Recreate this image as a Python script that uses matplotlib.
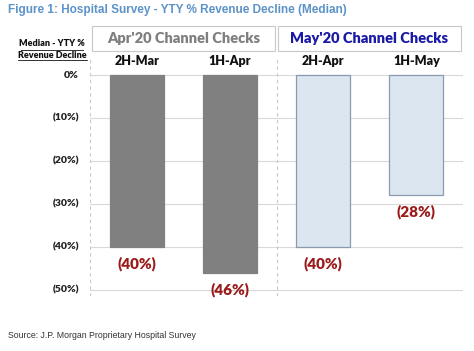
import matplotlib.pyplot as plt
from matplotlib.patches import Rectangle

# Datos
periodos = ['2H-Mar', '1H-Apr', '2H-Apr', '1H-May']
declive = [-40, -46, -40, -28]
etiquetas = ['(40%)', '(46%)', '(40%)', '(28%)']
grupos = ["Apr'20 Channel Checks", "May'20 Channel Checks"]
ticks_y = [0, -10, -20, -30, -40, -50]
ticks_txt = ['0%', '(10%)', '(20%)', '(30%)', '(40%)', '(50%)']

W, H = 474, 351
fig = plt.figure(figsize=(W / 100, H / 100), dpi=100)
plt.rcParams['font.family'] = ['Lato', 'DejaVu Sans']
narrow = ['Liberation Sans Narrow', 'Liberation Sans', 'DejaVu Sans']
peso = 'heavy'

def fx(px):
    return px / W

def fy(py):
    return 1 - py / H

# ejes: 0% en y=75, -50% en y=290
ax_top, ax_bot = 58, 296
ymax = 0 + (75 - ax_top) / 4.3
ymin = -50 - (ax_bot - 290) / 4.3
ax = fig.add_axes([fx(90), fy(ax_bot), fx(463) - fx(90), fy(ax_top) - fy(ax_bot)])
ax.set_xlim(-0.5, 3.5)
ax.set_ylim(ymin, ymax)

for t in ticks_y:
    ax.axhline(t, color='#d9d9d9', lw=0.8, zorder=0)
for xv in [-0.5, 1.5, 3.5]:
    ax.axvline(xv, color='#c8c8c8', lw=0.8, ls=(0, (3, 3)), zorder=0)

colores = ['#808080', '#808080', '#dce6f1', '#dce6f1']
bordes = ['#808080', '#808080', '#8a9bb0', '#8a9bb0']
ax.bar(range(4), declive, width=0.58, color=colores, edgecolor=bordes, lw=0.9, zorder=2)

for i, (v, t) in enumerate(zip(declive, etiquetas)):
    ax.text(i, v - 2.2, t, ha='center', va='top', color='#9b1b1b',
            fontsize=11, fontweight=peso)

for s in ax.spines.values():
    s.set_visible(False)
ax.set_xticks([])
ax.set_yticks([])

# etiquetas eje y
for t, txt in zip(ticks_y, ticks_txt):
    fig.text(fx(79), fy(75 - t * 4.3), txt, ha='right', va='center',
             fontsize=7.5, fontweight=peso, color='#222222')

# periodos
for i, p in enumerate(periodos):
    x = 90 + (i + 0.5) * (463 - 90) / 4
    fig.text(fx(x), fy(61), p, ha='center', va='center', fontsize=9,
             fontweight=peso, color='#111111')

# cajas de grupo
cajas = [(92, 275, '#7f7f7f'), (278, 461, '#1a1aa6')]
for (x0, x1, c), g in zip(cajas, grupos):
    fig.patches.append(Rectangle((fx(x0), fy(51)), fx(x1) - fx(x0), fy(26) - fy(51),
                                 transform=fig.transFigure, facecolor='white',
                                 edgecolor='#c8c8c8', lw=0.8))
    fig.text(fx((x0 + x1) / 2), fy(38.5), g, ha='center', va='center',
             fontsize=10.5, fontweight=peso, color=c)

fig.text(fx(52), fy(44), 'Median - YTY %', ha='center', va='center', fontsize=6.5,
         fontweight=peso, color='#111111')
fig.text(fx(52), fy(55), 'Revenue Decline', ha='center', va='center', fontsize=6.5,
         fontweight=peso, color='#111111')
fig.add_artist(plt.Line2D([fx(21), fx(83)], [fy(49.5), fy(49.5)], color='#111111', lw=0.6))
fig.add_artist(plt.Line2D([fx(18), fx(87)], [fy(60), fy(60)], color='#111111', lw=0.6))

fig.text(fx(8), fy(10), 'Figure 1: Hospital Survey - YTY % Revenue Decline (Median)',
         ha='left', va='center', fontsize=8.5, fontweight='bold', color='#5b93c8',
         family=narrow)
fig.text(fx(8), fy(335), 'Source: J.P. Morgan Proprietary Hospital Survey',
         ha='left', va='center', fontsize=6.3, color='#333333', family=narrow)

fig.savefig('out.png', dpi=100)
